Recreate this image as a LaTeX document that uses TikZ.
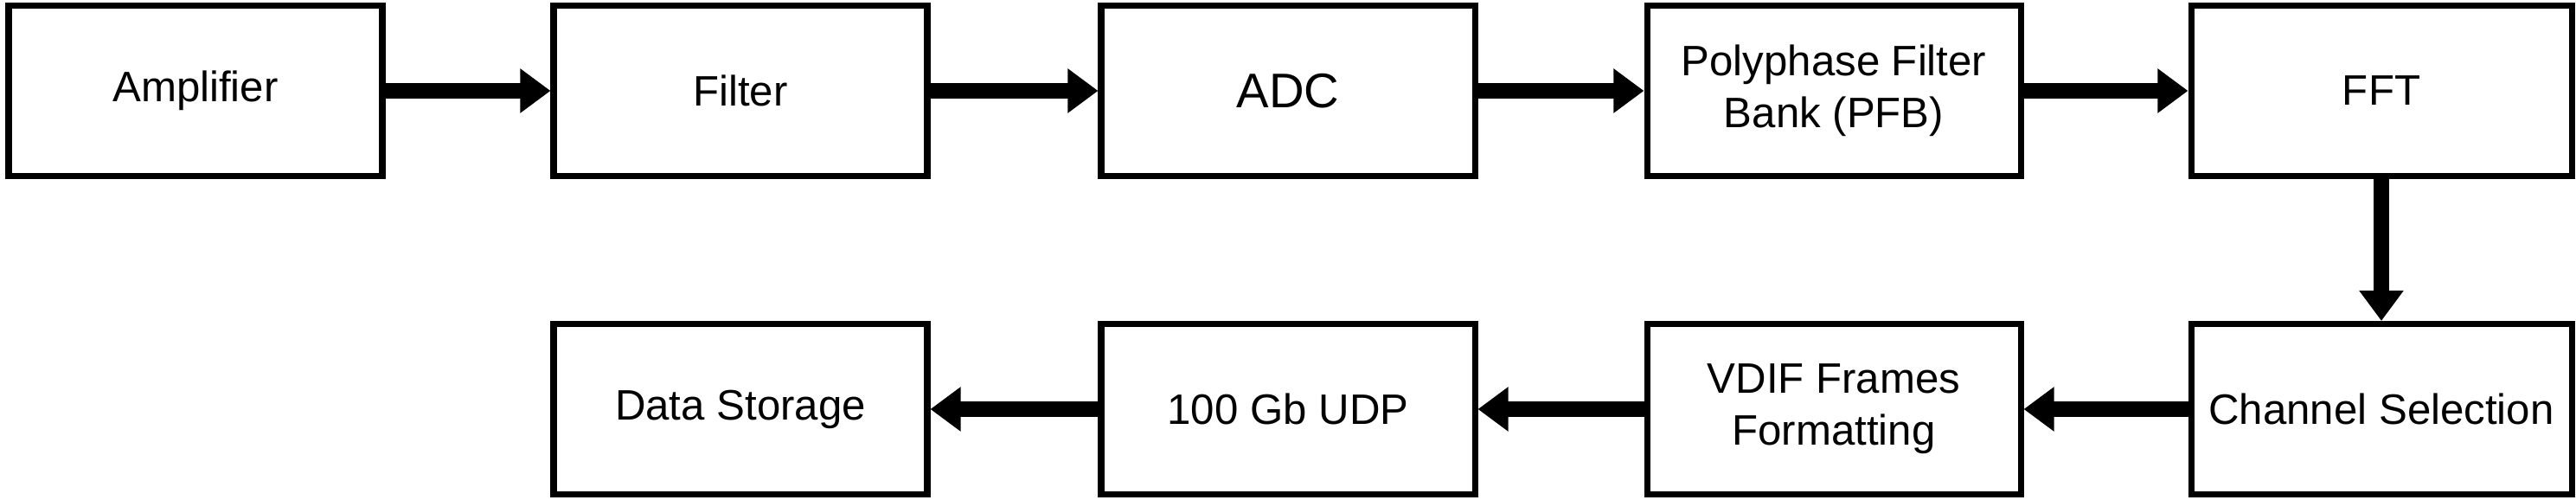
\documentclass[tikz,border=0pt]{standalone}
\usepackage{fontspec}
\setmainfont{Liberation Sans}
\usetikzlibrary{positioning}
\usetikzlibrary{arrows.meta}

\begin{document}
\begin{tikzpicture}
            \useasboundingbox (0,0) rectangle (29.78,5.78);
            \tikzset{stage/.style={draw, line width=2pt, rectangle, minimum width=4.32cm, minimum height=1.97cm, align=center, font=\fontsize{14}{17}\selectfont},
                     flow/.style={line width=5pt, -{Triangle[length=10pt, width=14pt]}}}
            % Top row
            \node[stage] (amp) at (2.26,4.73) {Amplifier};
            \node[stage] (filter) at (8.56,4.73) {Filter};
            \node[stage, font=\fontsize{16}{19}\selectfont] (adc) at (14.89,4.73) {ADC};
            \node[stage] (pfb) at (21.20,4.73) {Polyphase Filter\\Bank (PFB)};
            \node[stage, minimum width=4.4cm] (fft) at (27.53,4.73) {FFT};
            % Bottom row
            \node[stage, minimum width=4.4cm] (chan) at (27.53,1.05) {Channel Selection};
            \node[stage] (vdif) at (21.20,1.05) {VDIF Frames\\Formatting};
            \node[stage] (udp) at (14.89,1.05) {100 Gb UDP};
            \node[stage] (store) at (8.56,1.05) {Data Storage};
            
            \draw[flow] (amp) -- (filter);
            \draw[flow] (filter) -- (adc);
            \draw[flow] (adc) -- (pfb);
            \draw[flow] (pfb) -- (fft);
            \draw[flow] (fft) -- (chan);
            \draw[flow] (chan) -- (vdif);
            \draw[flow] (vdif) -- (udp);
            \draw[flow] (udp) -- (store);
        \end{tikzpicture}
\end{document}
